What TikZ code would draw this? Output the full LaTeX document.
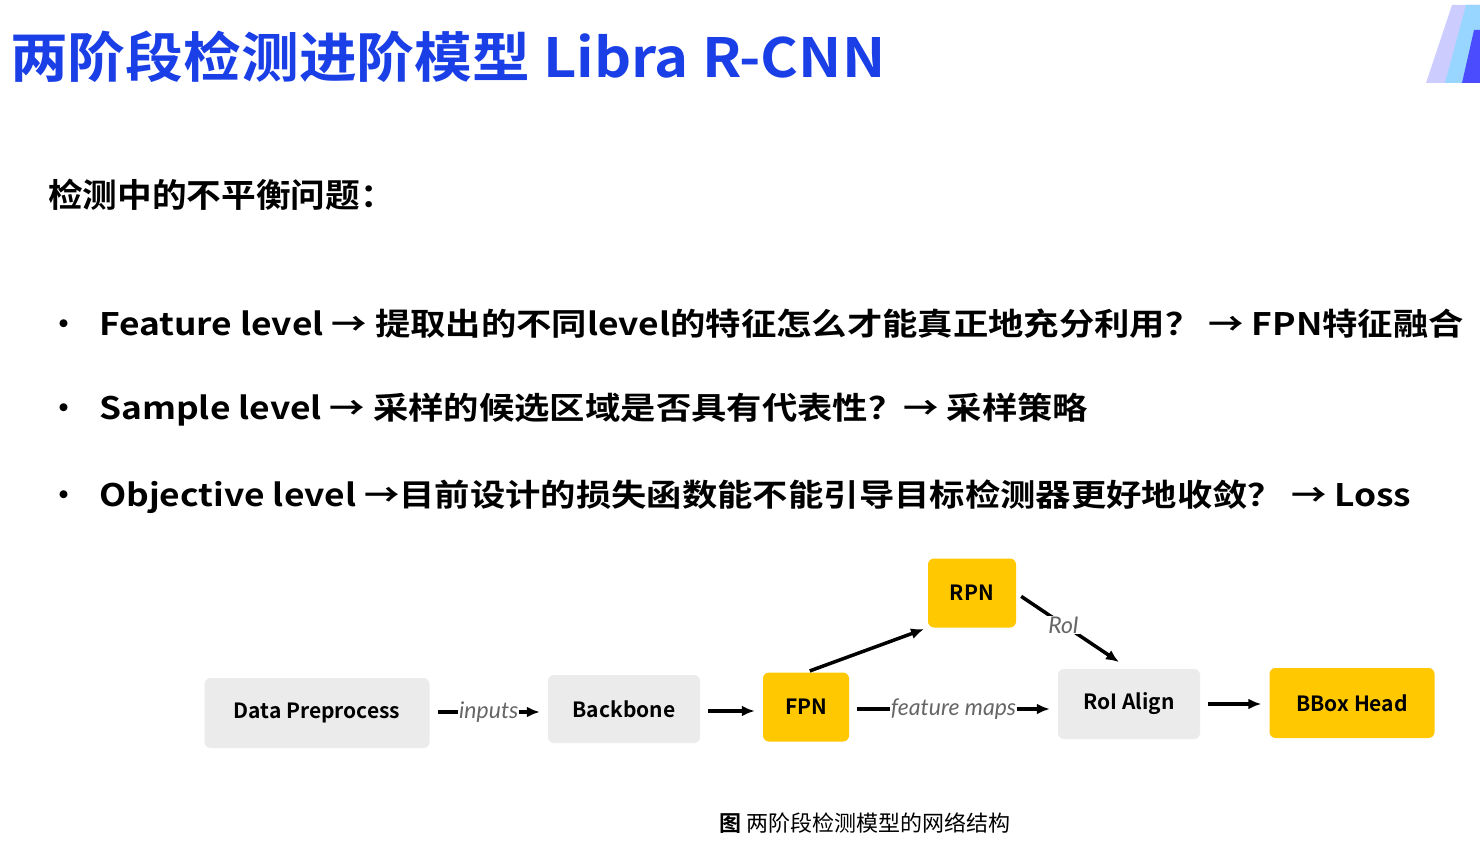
\documentclass[tikz,border=0pt]{standalone}
\usepackage{fontspec}
\setmainfont{Noto Sans CJK SC}[BoldFont={* Bold}]
\newfontfamily\latf{Lato}
\usetikzlibrary{arrows.meta}
\definecolor{ttl}{HTML}{1A3FE6}
\definecolor{ylw}{HTML}{FFC800}
\definecolor{gry}{HTML}{EBEBEB}
\begin{document}
\begin{tikzpicture}[x=1pt,y=-1pt,
  box/.style={rounded corners=6pt,inner sep=0pt,font=\fontsize{21}{21}\selectfont\bfseries},
  gbox/.style={box,fill=gry},
  ybox/.style={box,fill=ylw},
  arr/.style={-{Latex[length=13pt,width=11pt]},line width=3.5pt,shorten >=8pt,shorten <=8pt},
  lbl/.style={fill=white,inner sep=1pt,font=\fontsize{23}{23}\selectfont\itshape\latf,text=black!60},
  bul/.style={anchor=west,inner sep=0pt,font=\fontsize{31}{31}\selectfont\bfseries}]
\useasboundingbox (0,0) rectangle (1480,856);
\fill[white] (0,0) rectangle (1480,856);
% corner decoration
\fill[blue!20] (1452,5) -- (1480,5) -- (1480,83) -- (1426,83) -- cycle;
\fill[blue!40!cyan!40] (1466,5) -- (1480,5) -- (1480,83) -- (1445,83) -- cycle;
\fill[blue!70!white] (1474,30) -- (1480,30) -- (1480,83) -- (1462,83) -- cycle;
\node[anchor=west,inner sep=0pt,text=ttl,font=\fontsize{54}{54}\selectfont\bfseries] (title) at (10,57) {\scalebox{1.07}[1]{两阶段检测进阶模型 Libra R-CNN}};
\node[anchor=west,inner sep=0pt,font=\fontsize{33}{33}\selectfont\bfseries] (sub) at (48,195) {\scalebox{1.05}[1]{检测中的不平衡问题：}};
\node[bul] (b1) at (48,324) {•\hspace{20pt}\scalebox{1.14}[1]{Feature level → 提取出的不同level的特征怎么才能真正地充分利用？ → FPN特征融合}};
\node[bul] (b2) at (48,410) {•\hspace{20pt}\scalebox{1.14}[1]{Sample level → 采样的候选区域是否具有代表性？→ 采样策略}};
\node[bul] (b3) at (48,497) {•\hspace{20pt}\scalebox{1.14}[1]{Objective level →目前设计的损失函数能不能引导目标检测器更好地收敛？ → Loss}};
% diagram
\node[gbox,minimum width=225pt,minimum height=70pt] (dp) at (317,713) {Data Preprocess};
\node[gbox,minimum width=152pt,minimum height=68pt] (bb) at (624,709) {Backbone};
\node[ybox,minimum width=86pt,minimum height=69pt] (fpn) at (806,707) {FPN};
\node[ybox,minimum width=88pt,minimum height=69pt] (rpn) at (972,593) {RPN};
\node[gbox,minimum width=142pt,minimum height=70pt] (ra) at (1129,704) {RoI Align};
\node[ybox,minimum width=165pt,minimum height=70pt] (bh) at (1352,703) {BBox Head};
\draw[arr] (dp.east|-0,712) -- node[lbl]{inputs} (bb.west|-0,712);
\draw[arr] (bb.east|-0,711) -- (fpn.west|-0,711);
\draw[arr] (fpn.east|-0,709) -- node[lbl]{feature maps} (ra.west|-0,709);
\draw[arr] (ra.east|-0,704) -- (bh.west|-0,704);
\draw[arr,shorten <=4pt,shorten >=4pt] (fpn.north) -- (rpn.south west);
\draw[arr,shorten <=6pt,shorten >=12pt] (rpn.east) -- node[lbl,pos=0.42]{RoI} (ra.north);
\node[inner sep=0pt,font=\fontsize{22}{22}\selectfont] (cap) at (865,823) {\textbf{图} 两阶段检测模型的网络结构};
\end{tikzpicture}
\end{document}
